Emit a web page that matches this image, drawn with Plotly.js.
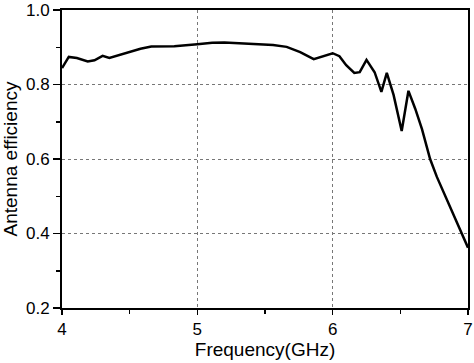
<!DOCTYPE html>
<html>
<head>
<meta charset="utf-8">
<script src="https://cdn.plot.ly/plotly-3.0.1.min.js"></script>
<style>html,body{margin:0;padding:0;background:#fff;}#chart{width:474px;height:363px;}</style>
</head>
<body>
<div id="chart"></div>
<script>
const frequency = [4.00, 4.05, 4.11, 4.19, 4.24, 4.30, 4.35, 4.42, 4.50, 4.58, 4.66, 4.74, 4.83, 5.00, 5.11, 5.20, 5.30, 5.45, 5.56, 5.66, 5.76, 5.86, 5.89, 5.96, 6.00, 6.05, 6.10, 6.16, 6.20, 6.25, 6.31, 6.36, 6.40, 6.45, 6.51, 6.56, 6.61, 6.66, 6.69, 6.72, 6.77, 7.00];
const efficiency = [0.844, 0.874, 0.871, 0.862, 0.865, 0.877, 0.871, 0.879, 0.887, 0.896, 0.902, 0.903, 0.903, 0.908, 0.912, 0.913, 0.911, 0.908, 0.906, 0.901, 0.887, 0.868, 0.871, 0.879, 0.884, 0.876, 0.852, 0.831, 0.833, 0.866, 0.833, 0.780, 0.831, 0.772, 0.675, 0.783, 0.735, 0.680, 0.640, 0.600, 0.552, 0.362];
const xTicks = [4, 5, 6, 7];
const yTicks = [0.2, 0.4, 0.6, 0.8, 1.0];
const xTickText = ['4', '5', '6', '7'];
const yTickText = ['0.2', '0.4', '0.6', '0.8', '1.0'];

const font = {family: 'Liberation Sans, Arial, sans-serif', color: '#000'};
const trace = {
  x: frequency, y: efficiency, type: 'scatter', mode: 'lines',
  line: {color: '#000', width: 2.5}, hoverinfo: 'skip'
};
const layout = {
  width: 474, height: 363,
  margin: {l: 62, r: 6, t: 10, b: 55},
  paper_bgcolor: '#fff', plot_bgcolor: '#fff',
  showlegend: false,
  font: Object.assign({size: 17}, font),
  xaxis: {
    range: [4, 7], tickvals: xTicks, ticktext: xTickText,
    showline: true, linecolor: '#000', linewidth: 2, mirror: true,
    ticks: 'outside', ticklen: 5, tickwidth: 1.5, tickcolor: '#000',
    showgrid: true, gridcolor: '#777', gridwidth: 1, griddash: 'dot',
    zeroline: false,
    tickfont: Object.assign({size: 17}, font),
    minor: {tickvals: [4.5, 5.5, 6.5], ticks: 'outside', ticklen: 4, tickwidth: 1.5, tickcolor: '#000', showgrid: false},
    title: {text: 'Frequency(GHz)', font: Object.assign({size: 19}, font), standoff: 1}
  },
  yaxis: {
    range: [0.2, 1.0], tickvals: yTicks, ticktext: yTickText,
    showline: true, linecolor: '#000', linewidth: 2, mirror: true,
    ticks: 'outside', ticklen: 7, tickwidth: 1.5, tickcolor: '#000',
    showgrid: true, gridcolor: '#777', gridwidth: 1, griddash: 'dot',
    zeroline: false,
    tickfont: Object.assign({size: 17}, font),
    minor: {tickvals: [0.3, 0.5, 0.7, 0.9], ticks: 'outside', ticklen: 4, tickwidth: 1.5, tickcolor: '#000', showgrid: false},
    title: {text: 'Antenna efficiency', font: Object.assign({size: 19}, font), standoff: 4}
  }
};
Plotly.newPlot('chart', [trace], layout, {displayModeBar: false, staticPlot: true});
</script>
</body>
</html>
